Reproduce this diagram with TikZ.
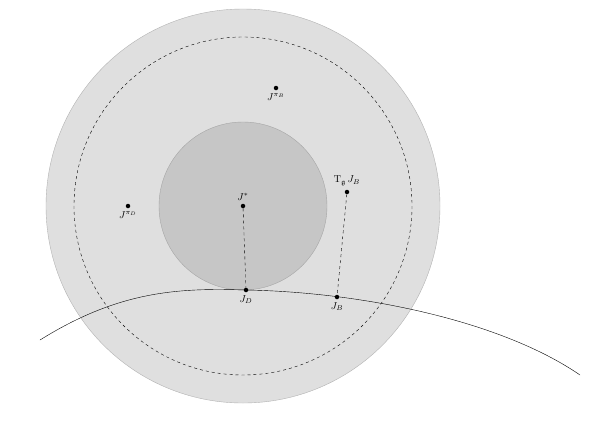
\documentclass[tikz,border=0pt]{standalone}
\usepackage{amssymb}
\begin{document}
\begin{tikzpicture}[x=1pt,y=-1pt,dot/.style={circle,fill=black,inner sep=0pt,minimum size=4.5pt}]
\useasboundingbox (0,0) rectangle (609,429);
\fill[gray!25,draw=gray!60] (243,206) circle (197);
\draw[dashed] (243,206) circle (169);
\fill[gray!45,draw=gray!70] (243,206) circle (84);
\draw (40,340) .. controls (120,290) and (180,288) .. (246,290) .. controls (360,292) and (500,320) .. (580,375);
\node[dot] (js) at (243,206) {};
\node[dot] (jd) at (246,290) {};
\node[dot] (jb) at (337,297) {};
\node[dot] (tjb) at (347,192) {};
\node[dot] (jpb) at (276,88) {};
\node[dot] (jpd) at (128,206) {};
\draw[dashed] (js) -- (jd);
\draw[dashed] (tjb) -- (jb);
\node[above=2pt] at (js) {$J^*$};
\node[below=2pt] at (jd) {$J_D$};
\node[below=2pt] at (jb) {$J_B$};
\node[above=3pt] at (tjb) {$\mathrm{T}_{\mathfrak{g}}\,J_B$};
\node[below=2pt] at (jpb) {$J^{\pi_B}$};
\node[below=2pt] at (jpd) {$J^{\pi_D}$};
\end{tikzpicture}
\end{document}
